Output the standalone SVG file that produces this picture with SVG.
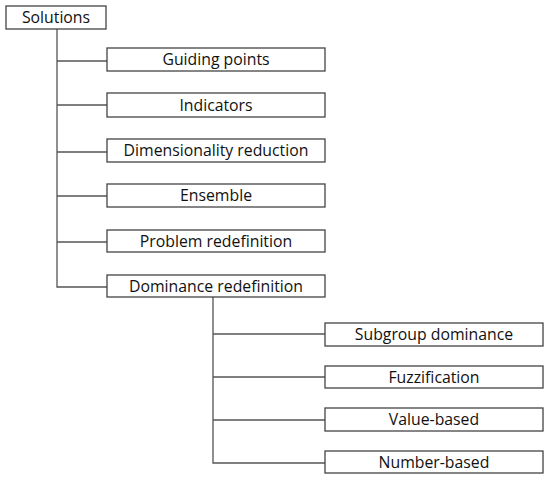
<svg xmlns="http://www.w3.org/2000/svg" width="550" height="480" viewBox="0 0 550 480">
<style>
rect.box{fill:#fff;stroke:#444;stroke-width:1.3}
text{font-family:"Open Sans","Liberation Sans",sans-serif;font-size:15.8px;fill:#111;text-anchor:middle;dominant-baseline:central}
.conn path{fill:none;stroke:#555;stroke-width:1.3}
</style>
<rect width="550" height="480" fill="#fff"/>
<g class="conn">
<path d="M57 29V287H107"/>
<path d="M57 61H107M57 105H107M57 152H107M57 196H107M57 242H107"/>
<path d="M213 297V463H325"/>
<path d="M213 334H325M213 377H325M213 420H325"/>
</g>
<g id="solutions"><rect class="box" x="6" y="6" width="100" height="23"/><text x="56" y="17">Solutions</text></g>
<g id="guiding"><rect class="box" x="107" y="48" width="218" height="23"/><text x="216" y="59">Guiding points</text></g>
<g id="indicators"><rect class="box" x="107" y="93" width="218" height="24"/><text x="216" y="104.5">Indicators</text></g>
<g id="dimred"><rect class="box" x="107" y="139" width="218" height="23"/><text x="216" y="150">Dimensionality reduction</text></g>
<g id="ensemble"><rect class="box" x="107" y="184" width="218" height="23"/><text x="216" y="195">Ensemble</text></g>
<g id="problem"><rect class="box" x="107" y="230" width="218" height="22"/><text x="216" y="240.5">Problem redefinition</text></g>
<g id="dominance"><rect class="box" x="107" y="275" width="218" height="22"/><text x="216" y="285.5">Dominance redefinition</text></g>
<g id="subgroup"><rect class="box" x="325" y="323" width="218" height="23"/><text x="434" y="334">Subgroup dominance</text></g>
<g id="fuzzification"><rect class="box" x="325" y="366" width="218" height="22"/><text x="434" y="376.5">Fuzzification</text></g>
<g id="value"><rect class="box" x="325" y="408" width="218" height="23"/><text x="434" y="419">Value-based</text></g>
<g id="number"><rect class="box" x="325" y="451" width="218" height="22"/><text x="434" y="461.5">Number-based</text></g>
</svg>
